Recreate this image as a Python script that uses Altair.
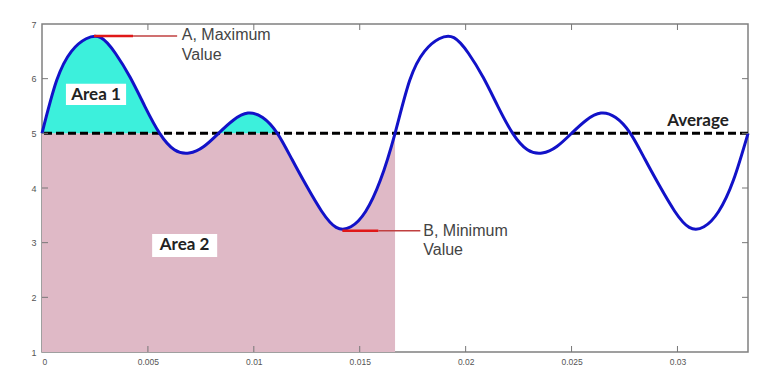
import altair as alt
import pandas as pd

# Waveform (time in ms, value), two cycles
t_ms = [0.0, 0.694, 1.389, 2.083, 2.778, 3.472, 4.167, 4.861, 5.556, 6.25, 6.944, 7.639,
        8.333, 9.028, 9.722, 10.417, 11.111, 11.806, 12.5, 13.194, 13.889, 14.583, 15.278, 15.972,
        16.667, 17.361, 18.056, 18.75, 19.444, 20.139, 20.833, 21.528, 22.222, 22.917, 23.611, 24.306,
        25.0, 25.694, 26.389, 27.083, 27.778, 28.472, 29.167, 29.861, 30.556, 31.25, 31.944, 32.639,
        33.333]
y_vals = [5.0, 5.97, 6.5, 6.73, 6.75, 6.46, 6.02, 5.49, 5.0, 4.7, 4.64, 4.76,
          5.0, 5.24, 5.37, 5.29, 5.0, 4.52, 4.03, 3.58, 3.28, 3.29, 3.57, 4.14,
          5.0, 5.97, 6.5, 6.73, 6.75, 6.46, 6.02, 5.49, 5.0, 4.7, 4.64, 4.76,
          5.0, 5.24, 5.37, 5.29, 5.0, 4.52, 4.03, 3.58, 3.28, 3.29, 3.57, 4.14,
          5.0]
average = 5.0
# index ranges of the first cycle: above-average parts and below-average parts
above_segments = [(0, 8), (12, 16)]
below_segments = [(8, 12), (16, 24)]
area2_end_ms = 16.667

x_ticks = [0.005, 0.01, 0.015, 0.02, 0.025, 0.03]
y_ticks = [2, 3, 4, 5, 6]

ann_lines = pd.DataFrame({
    "t": [0.00245, 0.0043, 0.01418, 0.01588],
    "t2": [0.0043, 0.00638, 0.01588, 0.01786],
    "y": [6.78, 6.78, 3.22, 3.22],
    "kind": ["thick", "thin", "thick", "thin"],
})
ann_text = pd.DataFrame({
    "t": [0.0066, 0.0066, 0.0180, 0.0180],
    "y": [6.80, 6.44, 3.22, 2.86],
    "label": ["A, Maximum", "Value", "B, Minimum", "Value"],
})
box_df = pd.DataFrame({
    "t": [0.00113, 0.0052], "t2": [0.00397, 0.00827],
    "y": [5.905, 3.16], "y2": [5.52, 2.74],
})
bold_text = pd.DataFrame({
    "t": [0.00255, 0.00673, 0.03097],
    "y": [5.71, 2.95, 5.22],
    "label": ["Area 1", "Area 2", "Average"],
})

W, H = 706, 328

df = pd.DataFrame({"t": [v / 1000 for v in t_ms], "y": y_vals})


def segs(ranges):
    parts = []
    for i, (a, b) in enumerate(ranges):
        p = df.iloc[a:b + 1].copy()
        p["seg"] = i
        parts.append(p)
    return pd.concat(parts)


df_above = segs(above_segments)
df_below = segs(below_segments)
pink_df = pd.DataFrame({"t": [0.0], "t2": [area2_end_ms / 1000], "y": [1.0], "y2": [average]})

xs = alt.Scale(domain=[0, 0.03333], nice=False, zero=False)
ys = alt.Scale(domain=[1, 7], nice=False, zero=False)
xaxis = alt.Axis(title=None, values=[0] + x_ticks, format="~g", ticks=False, domain=False,
                 grid=False, labelFontSize=8.5, labelColor="#555", labelPadding=5,
                 labelFont="Liberation Sans")
yaxis = alt.Axis(title=None, values=[1] + y_ticks + [7], ticks=False, domain=False, grid=False,
                 labelFontSize=9, labelColor="#555", labelPadding=6,
                 labelFont="Liberation Sans")

X = lambda f="t": alt.X(f"{f}:Q", scale=xs, axis=xaxis)
Y = lambda f="y": alt.Y(f"{f}:Q", scale=ys, axis=yaxis)

interp = "natural"
pink = alt.Chart(pink_df).mark_rect(color="#dfb9c6").encode(x=X(), x2="t2:Q", y=Y(), y2="y2:Q")
white_cut = alt.Chart(df_below).mark_area(interpolate=interp, color="white").encode(
    x=X(), y=Y(), y2=alt.datum(average), detail="seg:N")
cyan = alt.Chart(df_above).mark_area(interpolate=interp, color="#3cf0dc").encode(
    x=X(), y=Y(), y2=alt.datum(average), detail="seg:N")
avg_rule = alt.Chart(pd.DataFrame({"y": [average]})).mark_rule(
    color="black", strokeWidth=3, strokeDash=[8, 4]).encode(y=Y())
curve = alt.Chart(df).mark_line(interpolate=interp, color="#1212c8", strokeWidth=3).encode(
    x=X(), y=Y())

thick = alt.Chart(ann_lines[ann_lines.kind == "thick"]).mark_rule(color="#e01818", strokeWidth=2.5).encode(
    x=X(), x2="t2:Q", y=Y())
thin = alt.Chart(ann_lines[ann_lines.kind == "thin"]).mark_rule(color="#c04040", strokeWidth=1.5).encode(
    x=X(), x2="t2:Q", y=Y())
texts = alt.Chart(ann_text).mark_text(align="left", baseline="middle", font="Liberation Sans",
                                      fontSize=16, color="#444").encode(x=X(), y=Y(), text="label:N")
boxes = alt.Chart(box_df).mark_rect(color="white").encode(x=X(), x2="t2:Q", y=Y(), y2="y2:Q")
btexts = alt.Chart(bold_text).mark_text(align="center", baseline="middle", font="Lato",
                                        fontWeight="bold", fontSize=17, color="#222").encode(
    x=X(), y=Y(), text="label:N")

xt = pd.DataFrame({"t": x_ticks})
yt = pd.DataFrame({"y": y_ticks})
tick_col = "#777"
bt = alt.Chart(xt).mark_rule(color=tick_col, strokeWidth=1).encode(x=X(), y=alt.value(H), y2=alt.value(H - 6))
tt = alt.Chart(xt).mark_rule(color=tick_col, strokeWidth=1).encode(x=X(), y=alt.value(0), y2=alt.value(6))
lt = alt.Chart(yt).mark_rule(color=tick_col, strokeWidth=1).encode(y=Y(), x=alt.value(0), x2=alt.value(6))
rt = alt.Chart(yt).mark_rule(color=tick_col, strokeWidth=1).encode(y=Y(), x=alt.value(W), x2=alt.value(W - 6))

chart = alt.layer(pink, white_cut, cyan, avg_rule, curve, thick, thin, texts, boxes, btexts,
                  bt, tt, lt, rt).properties(
    width=W, height=H,
    autosize="none",
    padding={"left": 34, "top": 16, "right": 14, "bottom": 16},
).configure_view(stroke="#808080", strokeWidth=1.5)

chart.save("out.html", embed_options={"renderer": "svg", "actions": False})
